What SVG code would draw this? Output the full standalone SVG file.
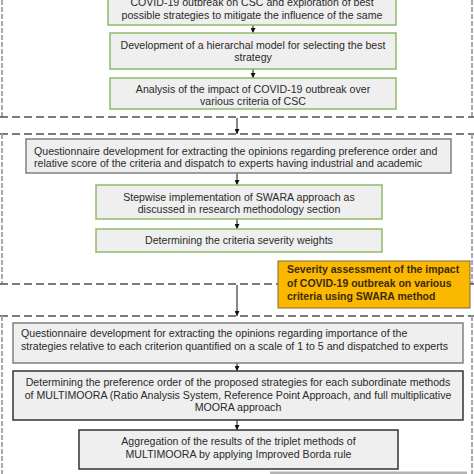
<svg xmlns="http://www.w3.org/2000/svg" width="474" height="474" viewBox="0 0 474 474">
<defs>
<marker id="ah" viewBox="0 0 10 10" refX="10" refY="5" markerWidth="5" markerHeight="5" markerUnits="userSpaceOnUse" orient="auto">
<path d="M0,0 L10,5 L0,10 z" fill="#111"/>
</marker>
</defs>
<style>
.t{font-family:"Liberation Sans",Arial,sans-serif;font-size:10.6px;fill:#2a2a2a}
.c{text-anchor:middle}
.b{font-weight:bold;font-size:10.5px;fill:#3a2a10}
.g{fill:#efefef;stroke:#8fba6a;stroke-width:1.5}
.q{fill:#efefef;stroke:#808080;stroke-width:1.5}
.k{fill:#efefef;stroke:#333;stroke-width:1.5}
.h{stroke:#505050;stroke-width:1.6;stroke-dasharray:8 4;fill:none}
.v{stroke:#aaa;stroke-width:2;stroke-dasharray:5 2;fill:none}
.a{stroke:#111;stroke-width:1;fill:none;marker-end:url(#ah)}
</style>
<rect width="474" height="474" fill="#fff"/>
<g id="frames">
<line class="v" x1="2" y1="0" x2="2" y2="117"/>
<line class="v" x1="472" y1="0" x2="472" y2="117"/>
<line class="h" x1="0" y1="117" x2="474" y2="117"/>
<line class="h" x1="0" y1="134" x2="474" y2="134"/>
<line class="v" x1="2" y1="134" x2="2" y2="284"/>
<line class="v" x1="472" y1="134" x2="472" y2="284"/>
<line class="h" x1="0" y1="284" x2="474" y2="284"/>
<line class="h" x1="0" y1="316" x2="474" y2="316"/>
<line class="v" x1="2" y1="316" x2="2" y2="474"/>
<line class="v" x1="472" y1="316" x2="472" y2="474"/>
</g>
<g id="connectors">
<line class="a" x1="253" y1="25" x2="253" y2="33"/>
<line class="a" x1="253" y1="69" x2="253" y2="78"/>
<line class="a" x1="237" y1="118" x2="237" y2="134"/>
<line class="a" x1="237" y1="173" x2="237" y2="185"/>
<line class="a" x1="237" y1="219" x2="237" y2="229"/>
<line class="a" x1="237" y1="285" x2="237" y2="316"/>
<line class="a" x1="237" y1="363" x2="237" y2="371"/>
<line class="a" x1="237" y1="420" x2="237" y2="430"/>
</g>
<g id="n1">
<rect class="g" x="108" y="-10" width="288" height="35"/>
<text class="t c" x="252" y="6">COVID-19 outbreak on CSC and exploration of best</text>
<text class="t c" x="252" y="18.5">possible strategies to mitigate the influence of the same</text>
</g>
<g id="n2">
<rect class="g" x="110" y="33" width="286" height="36"/>
<text class="t c" x="253" y="48.5">Development of a hierarchal model for selecting the best</text>
<text class="t c" x="253" y="61">strategy</text>
</g>
<g id="n3">
<rect class="g" x="110" y="78" width="286" height="31"/>
<text class="t c" x="253" y="92.5">Analysis of the impact of COVID-19 outbreak over</text>
<text class="t c" x="253" y="104.5">various criteria of CSC</text>
</g>
<g id="n4">
<rect class="q" x="26" y="139" width="425" height="34"/>
<text class="t" x="34" y="154.5">Questionnaire development for extracting the opinions regarding preference order and</text>
<text class="t" x="34" y="166.5">relative score of the criteria and dispatch to experts having industrial and academic</text>
</g>
<g id="n5">
<rect class="g" x="96" y="185" width="286" height="34"/>
<text class="t c" x="239" y="200.5">Stepwise implementation of SWARA approach as</text>
<text class="t c" x="239" y="212.5">discussed in research methodology section</text>
</g>
<g id="n6">
<rect class="g" x="96" y="229" width="286" height="23"/>
<text class="t c" x="239" y="243.5">Determining the criteria severity weights</text>
</g>
<g id="n7">
<rect x="278" y="261" width="192" height="47" fill="#fbb800" stroke="#7f6a38" stroke-width="1"/>
<text class="t b" x="287" y="273">Severity assessment of the impact</text>
<text class="t b" x="287" y="286.5">of COVID-19 outbreak on various</text>
<text class="t b" x="287" y="299.5">criteria using SWARA method</text>
</g>
<g id="n8">
<rect class="q" x="13" y="323" width="450" height="40"/>
<text class="t" x="21" y="337">Questionnaire development for extracting the opinions regarding importance of the</text>
<text class="t" x="21" y="349.5">strategies relative to each criterion quantified on a scale of 1 to 5 and dispatched to experts</text>
</g>
<g id="n9">
<rect class="k" x="13" y="371" width="450" height="49"/>
<text class="t c" x="238" y="386">Determining the preference order of the proposed strategies for each subordinate methods</text>
<text class="t c" x="238" y="398.5">of MULTIMOORA (Ratio Analysis System, Reference Point Approach, and full multiplicative</text>
<text class="t c" x="238" y="411">MOORA approach</text>
</g>
<g id="n10">
<rect class="k" x="79" y="430" width="319" height="39"/>
<text class="t c" x="238.5" y="445">Aggregation of the results of the triplet methods of</text>
<text class="t c" x="238.5" y="457.5">MULTIMOORA by applying Improved Borda rule</text>
</g>
<g id="n11">
<rect x="270" y="471.5" width="197" height="10" fill="#b4b4b4"/>
</g>
</svg>
